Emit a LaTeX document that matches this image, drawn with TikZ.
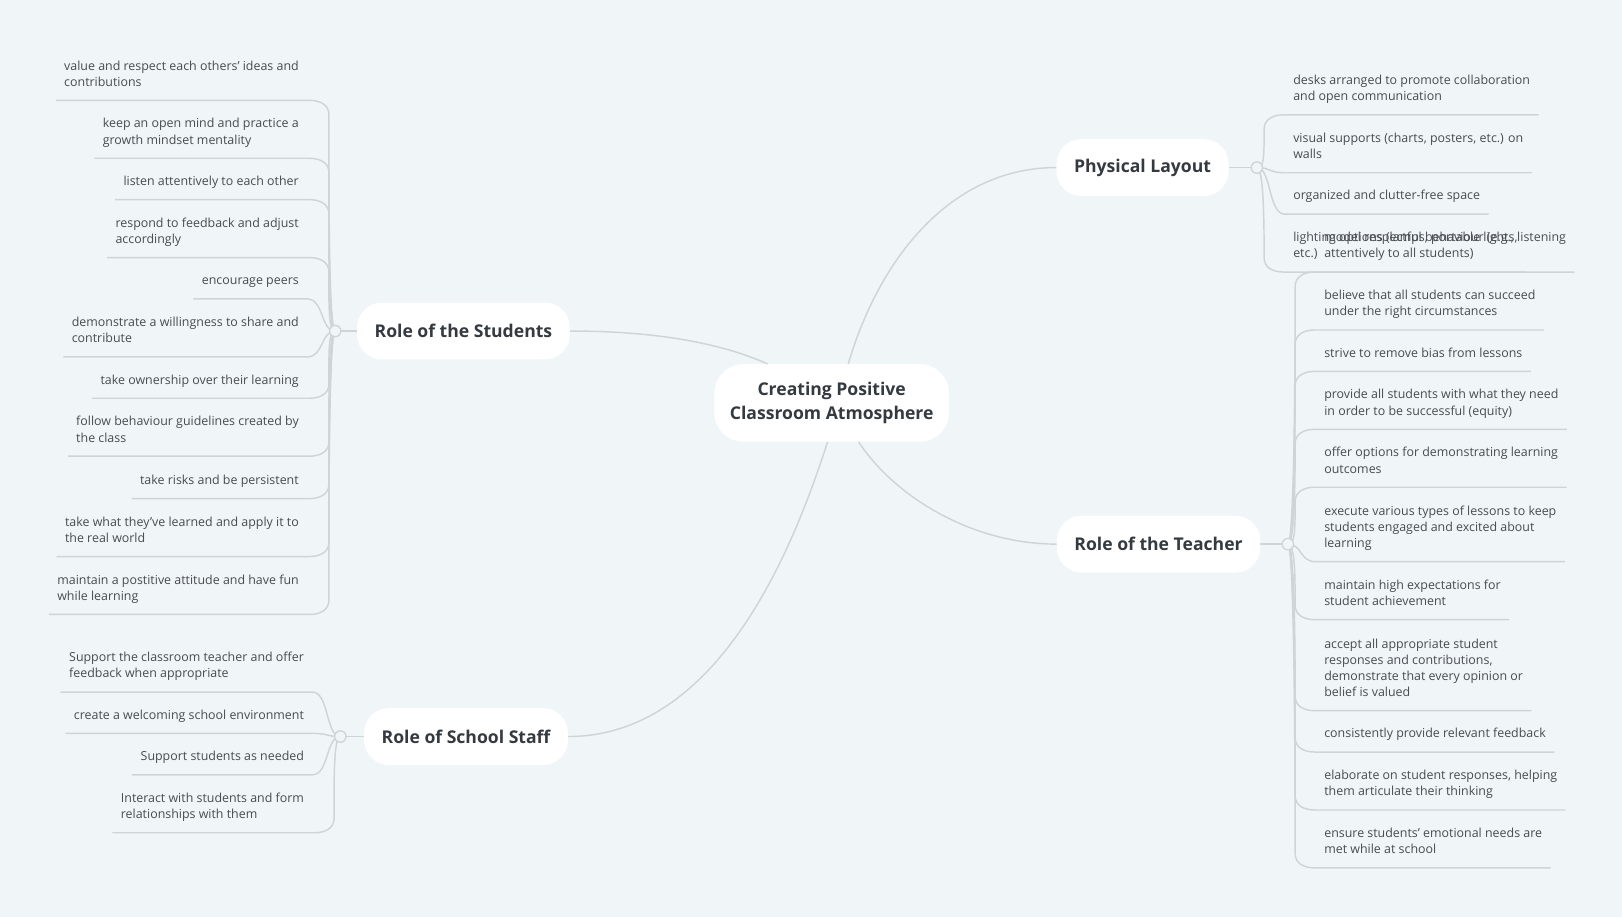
\documentclass[tikz,border=0pt]{standalone}
\usepackage{fontspec}
\setmainfont{Open Sans}
\usetikzlibrary{calc}
\definecolor{bg}{RGB}{240,245,248}
\definecolor{ln}{RGB}{207,212,216}
\definecolor{tx}{RGB}{72,76,82}
\definecolor{tt}{RGB}{52,58,64}
\tikzset{
 topic/.style={fill=white, rounded corners=24pt, text=tt, font=\bfseries\fontsize{17}{23}\selectfont, minimum height=55pt, inner xsep=17pt, align=center},
 leafnode/.style={text=tx, font=\fontsize{12}{15.6}\selectfont, align=left, inner sep=0pt, text depth=13.5pt},
 conn/.style={draw=ln, line width=1.4pt},
 junc/.style={circle, draw=ln, fill=bg, line width=1.3pt, minimum size=11pt, inner sep=0pt},
}
\newcommand\RLk[3]{\draw[conn] (#1) .. controls +(7,0) and +(0,#3*-28) .. ($(#2.south west)+(-28,#3*-14)$) .. controls +(0,#3*10) and +(-10,0) .. ($(#2.south west)+(-9,0)$) -- ($(#2.south east)+(8,0)$);}
\newcommand\RLd[2]{\draw[conn] (#1) .. controls +(14,0) and +(-16,0) .. ($(#2.south west)+(-8,0)$) -- ($(#2.south east)+(8,0)$);}
\newcommand\LLk[3]{\draw[conn] (#1) .. controls +(-7,0) and +(0,#3*-28) .. ($(#2.south east)+(29,#3*-14)$) .. controls +(0,#3*10) and +(10,0) .. ($(#2.south east)+(10,0)$) -- ($(#2.south west)+(-8,0)$);}
\newcommand\LLd[2]{\draw[conn] (#1) .. controls +(-14,0) and +(16,0) .. ($(#2.south east)+(8,0)$) -- ($(#2.south west)+(-8,0)$);}
\begin{document}
\begin{tikzpicture}[x=1pt,y=-1pt]
\fill[bg] (0,0) rectangle (1568,886);
\useasboundingbox (0,0) rectangle (1568,886);

% topics
\node[topic, minimum height=75pt, inner xsep=15pt, rounded corners=28pt] (c) at (804,389.5) {Creating Positive\\Classroom Atmosphere};
\node[topic] (pl) at (1104.5,162) {Physical Layout};
\node[topic] (te) at (1120,526) {Role of the Teacher};
\node[topic] (st) at (448,320) {Role of the Students};
\node[topic] (sf) at (450.5,712) {Role of School Staff};

% junctions
\coordinate (pj) at (1215,162);
\coordinate (tj) at (1245,526);
\coordinate (sj) at (324,320);
\coordinate (fj) at (329,712);

% main connectors
\draw[conn] ($(c.north)+(16,0)$) .. controls +(30,-102) and +(-102,0) .. (pl.west);
\draw[conn] ($(c.south)+(26,0)$) .. controls +(35,53) and +(-82,0) .. (te.west);
\draw[conn] ($(c.north)+(-62,0)$) .. controls +(-40,-18) and +(90,0) .. (st.east);
\draw[conn] ($(c.south)+(-4,0)$) .. controls +(-30,93) and +(149,0) .. (sf.east);
\draw[conn] (pl.east) -- (pj);
\draw[conn] (te.east) -- (tj);
\draw[conn] (st.west) -- (sj);
\draw[conn] (sf.west) -- (fj);

% physical layout leaves
\node[leafnode, anchor=south west] (p1) at (1250,111) {desks arranged to promote collaboration\\and open communication};
\node[leafnode, anchor=south west] (p2) at (1250,167) {visual supports (charts, posters, etc.) on\\walls};
\node[leafnode, anchor=south west] (p3) at (1250,207) {organized and clutter-free space};
\node[leafnode, anchor=south west] (p4) at (1250,263) {lighting options (lamps, portable lights,\\etc.)};

% teacher leaves
\node[leafnode, anchor=south west] (t0) at (1280,263) {model respectful behaviour (e.g., listening\\attentively to all students)};
\node[leafnode, anchor=south west] (t1) at (1280,319) {believe that all students can succeed\\under the right circumstances};
\node[leafnode, anchor=south west] (t2) at (1280,359) {strive to remove bias from lessons};
\node[leafnode, anchor=south west] (t3) at (1280,415) {provide all students with what they need\\in order to be successful (equity)};
\node[leafnode, anchor=south west] (t4) at (1280,471) {offer options for demonstrating learning\\outcomes};
\node[leafnode, anchor=south west] (t5) at (1280,543) {execute various types of lessons to keep\\students engaged and excited about\\learning};
\node[leafnode, anchor=south west] (t6) at (1280,599) {maintain high expectations for\\student achievement};
\node[leafnode, anchor=south west] (t7) at (1280,687) {accept all appropriate student\\responses and contributions,\\demonstrate that every opinion or\\belief is valued};
\node[leafnode, anchor=south west] (t8) at (1280,727) {consistently provide relevant feedback};
\node[leafnode, anchor=south west] (t9) at (1280,783) {elaborate on student responses, helping\\them articulate their thinking};
\node[leafnode, anchor=south west] (t10) at (1280,839) {ensure students' emotional needs are\\met while at school};

% student leaves
\node[leafnode, anchor=south east] (s1) at (289,97) {value and respect each others' ideas and\\contributions};
\node[leafnode, anchor=south east] (s2) at (289,153) {keep an open mind and practice a\\growth mindset mentality};
\node[leafnode, anchor=south east] (s3) at (289,193) {listen attentively to each other};
\node[leafnode, anchor=south east] (s4) at (289,249) {respond to feedback and adjust\\accordingly};
\node[leafnode, anchor=south east] (s5) at (289,289) {encourage peers};
\node[leafnode, anchor=south east] (s6) at (289,345) {demonstrate a willingness to share and\\contribute};
\node[leafnode, anchor=south east] (s7) at (289,385) {take ownership over their learning};
\node[leafnode, anchor=south east] (s8) at (289,441) {follow behaviour guidelines created by\\the class};
\node[leafnode, anchor=south east] (s9) at (289,482) {take risks and be persistent};
\node[leafnode, anchor=south east] (s10) at (289,538) {take what they've learned and apply it to\\the real world};
\node[leafnode, anchor=south east] (s11) at (289,594) {maintain a postitive attitude and have fun\\while learning};

% staff leaves
\node[leafnode, anchor=south east] (f1) at (294,669) {Support the classroom teacher and offer\\feedback when appropriate};
\node[leafnode, anchor=south east] (f2) at (294,709) {create a welcoming school environment};
\node[leafnode, anchor=south east] (f3) at (294,749) {Support students as needed};
\node[leafnode, anchor=south east] (f4) at (294,805) {Interact with students and form\\relationships with them};

% leaf links
\RLk{pj}{p1}{-1}
\RLd{pj}{p2}
\RLd{pj}{p3}
\RLk{pj}{p4}{1}

\RLk{tj}{t0}{-1}
\RLk{tj}{t1}{-1}
\RLk{tj}{t2}{-1}
\RLk{tj}{t3}{-1}
\RLk{tj}{t4}{-1}
\RLd{tj}{t5}
\RLk{tj}{t6}{1}
\RLk{tj}{t7}{1}
\RLk{tj}{t8}{1}
\RLk{tj}{t9}{1}
\RLk{tj}{t10}{1}

\LLk{sj}{s1}{-1}
\LLk{sj}{s2}{-1}
\LLk{sj}{s3}{-1}
\LLk{sj}{s4}{-1}
\LLd{sj}{s5}
\LLd{sj}{s6}
\LLk{sj}{s7}{1}
\LLk{sj}{s8}{1}
\LLk{sj}{s9}{1}
\LLk{sj}{s10}{1}
\LLk{sj}{s11}{1}

\LLd{fj}{f1}
\LLd{fj}{f2}
\LLd{fj}{f3}
\LLk{fj}{f4}{1}

% junction circles
\node[junc] (pjc) at (pj) {};
\node[junc] (tjc) at (tj) {};
\node[junc] (sjc) at (sj) {};
\node[junc] (fjc) at (fj) {};
\end{tikzpicture}
\end{document}
